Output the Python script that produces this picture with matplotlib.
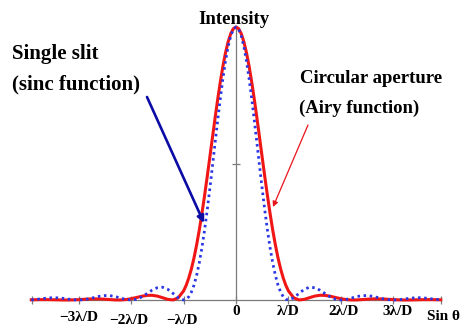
import numpy as np
import matplotlib
matplotlib.use('Agg')
import matplotlib.pyplot as plt

# positive half of both profiles, x in units of lambda/D (curves are symmetric)
x_half = [0.0, 0.05, 0.1, 0.15, 0.2, 0.25, 0.3, 0.35, 0.4, 0.45,
          0.5, 0.55, 0.6, 0.65, 0.7, 0.75, 0.8, 0.85, 0.9, 0.95,
          1.0, 1.1, 1.2, 1.3, 1.4, 1.5, 1.6, 1.7, 1.8, 1.9,
          2.0, 2.1, 2.2, 2.3, 2.4, 2.5, 2.6, 2.7, 2.8, 2.9,
          3.0, 3.1, 3.2, 3.3, 3.4, 3.5, 3.6, 3.7, 3.8, 3.9]
airy_half = [1.0, 0.9939, 0.9756, 0.9458, 0.9053, 0.8554, 0.7974, 0.7332, 0.6645, 0.5931,
             0.5209, 0.4495, 0.3807, 0.3157, 0.2558, 0.2018, 0.1544, 0.1139, 0.0803, 0.0534,
             0.0328, 0.0081, 0.0002, 0.0023, 0.0085, 0.0143, 0.0173, 0.0168, 0.0135, 0.0090,
             0.0046, 0.0015, 0.0001, 0.0003, 0.0015, 0.0029, 0.0039, 0.0041, 0.0036, 0.0026,
             0.0014, 0.0005, 0.0000, 0.0001, 0.0005, 0.0010, 0.0013, 0.0014, 0.0011, 0.0007]
sinc_half = [1.0, 0.9918, 0.9675, 0.9281, 0.8751, 0.8106, 0.7368, 0.6566, 0.5728, 0.4881,
             0.4053, 0.3267, 0.2546, 0.1904, 0.1353, 0.0901, 0.0547, 0.0289, 0.0119, 0.0028,
             0.0, 0.0080, 0.0243, 0.0392, 0.0468, 0.0450, 0.0358, 0.0230, 0.0108, 0.0027,
             0.0, 0.0022, 0.0072, 0.0125, 0.0159, 0.0162, 0.0136, 0.0091, 0.0045, 0.0012,
             0.0, 0.0010, 0.0034, 0.0061, 0.0079, 0.0083, 0.0071, 0.0048, 0.0024, 0.0006]

tick_values = [-3, -2, -1, 0, 1, 2, 3]
tick_labels = ['\u22123\u03bb/D', '\u22122\u03bb/D', '\u2212\u03bb/D', '0',
               '\u03bb/D', '2\u03bb/D', '3\u03bb/D']

# mirror the half profiles
x = np.concatenate([-np.array(x_half[:0:-1]), x_half])
airy = np.concatenate([airy_half[:0:-1], airy_half])
sinc = np.concatenate([sinc_half[:0:-1], sinc_half])

W, H = 474, 336
serif = 'Liberation Serif'
gray = '#7a7a7a'

fig = plt.figure(figsize=(W/100, H/100), dpi=100)
ax = fig.add_axes([32/W, 36/H, 409/W, 273/H])
xmin, xmax = -3.886, 3.905
ax.set_xlim(xmin, xmax)
ax.set_ylim(0, 1)

ax.plot(x, airy, color='#f01616', lw=2.2, clip_on=False, zorder=3)
ax.plot(x, sinc, color='#2a35e6', lw=2.0, ls=(0, (0.9, 1.3)), clip_on=False, zorder=4)

for s in ['top', 'right']:
    ax.spines[s].set_visible(False)
ax.spines['left'].set_position(('data', 0))
ax.spines['left'].set_bounds(0, 1)
for s in ['left', 'bottom']:
    ax.spines[s].set_color(gray)
    ax.spines[s].set_linewidth(0.9)
    ax.spines[s].set_zorder(1)

ax.set_xticks([xmin] + tick_values + [xmax])
ax.set_yticks([0.5])
ax.tick_params(axis='both', labelbottom=False, labelleft=False, direction='inout',
               length=6, width=0.9, color=gray)

# staggered tick labels (pixel shift right, pixel drop of baseline below axis)
label_shift = [(0, 21), (-2, 24), (-2, 24), (0, 15), (0, 15), (3, 15), (4, 15)]
for v, lab, (dx, dy) in zip(tick_values, tick_labels, label_shift):
    ax.annotate(lab, xy=(v, 0), xytext=(dx*0.72, -dy*0.72), textcoords='offset points',
                ha='center', va='baseline', fontsize=11, fontweight='bold',
                family=serif, annotation_clip=False)

def ftext(px, py, s, size, ha='left'):
    fig.text(px/W, 1 - py/H, s, ha=ha, va='baseline', fontsize=size,
             fontweight='bold', family=serif)

ftext(234, 24, 'Intensity', 13.5, ha='center')
ftext(12, 59, 'Single slit', 15)
ftext(12, 89, '(sinc function)', 15)
ftext(300, 83, 'Circular aperture', 13.5)
ftext(299, 113, '(Airy function)', 13.5)
ftext(427, 320, 'Sin \u03b8', 11)

# arrows pointing at the curves
ax.annotate('', xy=(204, H - 223), xytext=(147, H - 97), xycoords='figure pixels',
            arrowprops=dict(arrowstyle='-|>', color='#0b0ba6', lw=1.9,
                            mutation_scale=10, shrinkA=0, shrinkB=0))
ax.annotate('', xy=(273, H - 207), xytext=(308, H - 125), xycoords='figure pixels',
            arrowprops=dict(arrowstyle='-|>', color='#e8141c', lw=0.9,
                            mutation_scale=8, shrinkA=0, shrinkB=0))

fig.savefig('out.png', dpi=100)
